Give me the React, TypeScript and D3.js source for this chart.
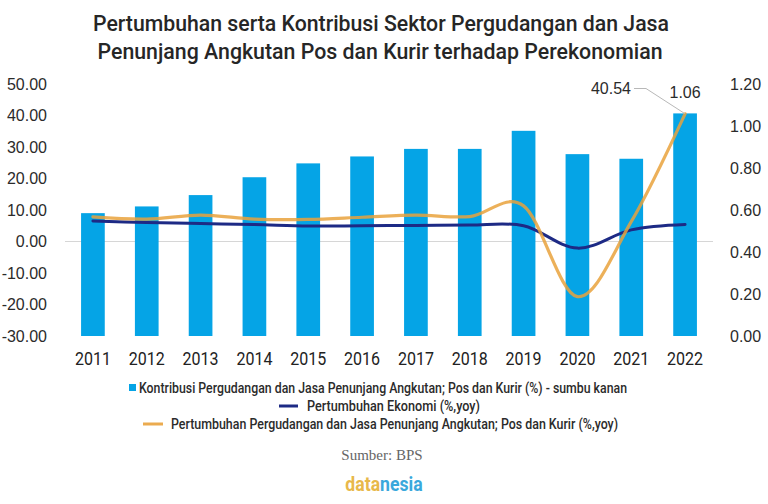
import React from 'react';
import * as d3 from 'd3';

// Years on the category axis
const years = ['2011', '2012', '2013', '2014', '2015', '2016', '2017', '2018', '2019', '2020', '2021', '2022'];

// Share of the warehousing & postal sector in GDP (%), right axis
const contribution = [0.585, 0.617, 0.671, 0.756, 0.822, 0.855, 0.891, 0.891, 0.977, 0.866, 0.844, 1.06];

// Economic growth (% yoy), left axis
const economicGrowth = [6.5, 6.0, 5.7, 5.4, 4.9, 5.0, 5.1, 5.2, 5.0, -2.1, 3.7, 5.4];

// Warehousing & postal sector growth (% yoy), left axis
const sectorGrowth = [7.8, 7.1, 8.4, 7.1, 7.0, 7.7, 8.4, 7.9, 11.3, -17.5, 6.3, 40.54];

// Axis ticks
const leftTicks = [50, 40, 30, 20, 10, 0, -10, -20, -30];
const rightTicks = [1.2, 1.0, 0.8, 0.6, 0.4, 0.2, 0.0];

const titleLines = [
  'Pertumbuhan serta Kontribusi Sektor Pergudangan dan Jasa',
  'Penunjang Angkutan Pos dan Kurir terhadap Perekonomian',
];

const legendLabels = [
  'Kontribusi Pergudangan dan Jasa Penunjang Angkutan; Pos dan Kurir (%) - sumbu kanan',
  'Pertumbuhan Ekonomi (%,yoy)',
  'Pertumbuhan Pergudangan dan Jasa Penunjang Angkutan; Pos dan Kurir (%,yoy)',
];

const BAR = '#05a4e6';
const NAVY = '#1d2a85';
const ORANGE = '#e9a23c';
const TEXT = '#2b2b2b';
const COND = 'Roboto, "Noto Sans", sans-serif';
const NUM = '"Liberation Sans", Arial, sans-serif';

export default function App() {
  const W = 768;
  const H = 504;
  const plotLeft = 66;
  const plotRight = 712;
  const plotTop = 84;
  const plotBottom = 336;

  const x = d3
    .scaleBand<string>()
    .domain(years)
    .range([plotLeft, plotRight])
    .paddingInner(0.56)
    .paddingOuter(0.28);

  const yLeft = d3.scaleLinear().domain([-30, 50]).range([plotBottom, plotTop]);
  const yRight = d3.scaleLinear().domain([0, 1.2]).range([plotBottom, plotTop]);

  const cx = (i: number) => (x(years[i]) as number) + x.bandwidth() / 2;

  const line = d3
    .line<number>()
    .x((_, i) => cx(i))
    .y((d) => yLeft(d))
    .curve(d3.curveCardinal.tension(0));

  const lastIdx = years.length - 1;
  const lastX = cx(lastIdx);
  const lastSectorY = yLeft(sectorGrowth[lastIdx]);
  const lastBarY = yRight(contribution[lastIdx]);

  return (
    <svg
      width={W}
      height={H}
      viewBox={`0 0 ${W} ${H}`}
      style={{ position: 'absolute', left: 0, top: 0, background: '#fff' }}
    >
      <rect x={0} y={0} width={W} height={H} fill="#fff" />

      {/* Title */}
      {titleLines.map((t, i) => (
        <text
          key={t}
          x={W / 2 + (i === 0 ? -3 : -4)}
          y={31 + i * 28}
          textAnchor="middle"
          fontFamily={COND}
          fontWeight={500}
          fontSize={22}
          fill="#262626"
          textLength={i === 0 ? 576 : 565}
          lengthAdjust="spacingAndGlyphs"
        >
          {t}
        </text>
      ))}

      {/* Zero line */}
      <line x1={plotLeft - 1} x2={plotRight + 1} y1={yLeft(0)} y2={yLeft(0)} stroke="#d6d6d6" strokeWidth={1} />

      {/* Bars: sector contribution */}
      {contribution.map((v, i) => (
        <rect
          key={years[i]}
          x={x(years[i])}
          y={yRight(v)}
          width={x.bandwidth()}
          height={yRight(0) - yRight(v)}
          fill={BAR}
        />
      ))}

      {/* Economic growth line */}
      <path d={line(economicGrowth) || ''} fill="none" stroke={NAVY} strokeWidth={3} strokeLinecap="round" />

      {/* Sector growth line */}
      <path
        d={line(sectorGrowth) || ''}
        fill="none"
        stroke={ORANGE}
        strokeOpacity={0.85}
        strokeWidth={3.2}
        strokeLinecap="round"
        strokeLinejoin="round"
      />

      {/* Data labels for 2022 */}
      <polyline
        points={`634,88.5 646,88.5 ${lastX},${lastSectorY}`}
        fill="none"
        stroke="#b8b8b8"
        strokeWidth={1}
      />
      <text x={631} y={94} textAnchor="end" fontFamily={NUM} fontSize={16} fill={TEXT}>
        {sectorGrowth[lastIdx].toFixed(2)}
      </text>
      <text x={lastX} y={lastBarY - 15} textAnchor="middle" fontFamily={NUM} fontSize={16} fill={TEXT}>
        {contribution[lastIdx].toFixed(2)}
      </text>

      {/* Left axis labels */}
      {leftTicks.map((t) => (
        <text
          key={`l${t}`}
          x={47}
          y={yLeft(t)}
          dy="0.36em"
          textAnchor="end"
          fontFamily={NUM}
          fontSize={16}
          fill={TEXT}
        >
          {t.toFixed(2)}
        </text>
      ))}

      {/* Right axis labels */}
      {rightTicks.map((t) => (
        <text
          key={`r${t}`}
          x={730}
          y={yRight(t)}
          dy="0.36em"
          textAnchor="start"
          fontFamily={NUM}
          fontSize={16}
          fill={TEXT}
        >
          {t.toFixed(2)}
        </text>
      ))}

      {/* Category labels */}
      {years.map((yr, i) => (
        <text
          key={`x${yr}`}
          x={cx(i)}
          y={365}
          textAnchor="middle"
          fontFamily={COND}
          fontWeight={400}
          fontSize={18}
          fill="#222"
          textLength={36}
          lengthAdjust="spacingAndGlyphs"
        >
          {yr}
        </text>
      ))}

      {/* Legend */}
      <rect x={129} y={384} width={7} height={7} fill={BAR} />
      <text
        x={139}
        y={393}
        fontFamily={COND}
        fontWeight={500}
        fontSize={14}
        fill={TEXT}
        textLength={488}
        lengthAdjust="spacingAndGlyphs"
      >
        {legendLabels[0]}
      </text>
      <line x1={279} x2={298} y1={406} y2={406} stroke={NAVY} strokeWidth={3} />
      <text
        x={307}
        y={411}
        fontFamily={COND}
        fontWeight={500}
        fontSize={14}
        fill={TEXT}
        textLength={173}
        lengthAdjust="spacingAndGlyphs"
      >
        {legendLabels[1]}
      </text>
      <line x1={143} x2={163} y1={424} y2={424} stroke={ORANGE} strokeOpacity={0.9} strokeWidth={3} />
      <text
        x={171}
        y={429}
        fontFamily={COND}
        fontWeight={500}
        fontSize={14}
        fill={TEXT}
        textLength={447}
        lengthAdjust="spacingAndGlyphs"
      >
        {legendLabels[2]}
      </text>

      {/* Source */}
      <text
        x={382}
        y={460}
        textAnchor="middle"
        fontFamily={'"Liberation Serif", "DejaVu Serif", serif'}
        fontSize={15}
        fill="#666"
      >
        Sumber: BPS
      </text>

      {/* Brand mark, narrowed horizontally */}
      <g transform="translate(384,491) scale(0.84,1)">
        <text x={0} y={0} textAnchor="middle" fontFamily={COND} fontWeight={700} fontSize={21}>
          <tspan fill="#e8b84a">data</tspan>
          <tspan fill="#3aa8dc">nesia</tspan>
        </text>
      </g>
    </svg>
  );
}
